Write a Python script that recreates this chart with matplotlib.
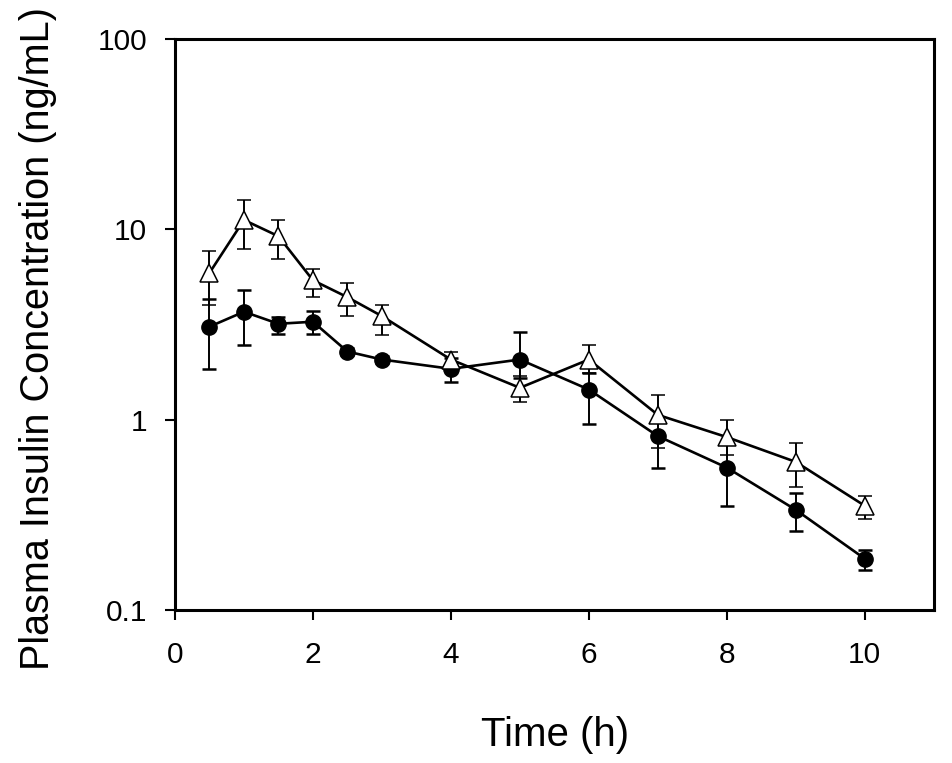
import matplotlib
matplotlib.use("Agg")
import matplotlib.pyplot as plt
from matplotlib.ticker import FixedLocator, NullLocator

plt.rcParams['font.family'] = ['Liberation Sans', 'DejaVu Sans']

# time points (h)
time = [0.5, 1, 1.5, 2, 2.5, 3, 4, 5, 6, 7, 8, 9, 10]

# open triangles: mean, lower and upper error
tri_mean = [5.9, 11.2, 9.2, 5.4, 4.4, 3.5, 2.07, 1.47, 2.07, 1.06, 0.81, 0.60, 0.353]
tri_low = [4.0, 7.9, 7.0, 4.4, 3.5, 2.8, 1.85, 1.24, 1.75, 0.71, 0.65, 0.445, 0.30]
tri_high = [7.7, 14.3, 11.2, 6.2, 5.2, 4.0, 2.27, 1.70, 2.47, 1.34, 1.0, 0.75, 0.395]

# filled circles: mean, lower and upper error
cir_mean = [3.08, 3.69, 3.19, 3.27, 2.28, 2.07, 1.85, 2.07, 1.44, 0.82, 0.56, 0.336, 0.186]
cir_low = [1.85, 2.47, 2.83, 2.83, 2.18, 1.98, 1.58, 1.66, 0.95, 0.56, 0.35, 0.26, 0.163]
cir_high = [4.3, 4.8, 3.47, 3.73, 2.38, 2.16, 2.1, 2.9, 1.75, 1.0, 0.75, 0.41, 0.207]

fig = plt.figure(figsize=(9.52, 7.63), dpi=100)
ax = fig.add_axes([0.1838, 0.2005, 0.797, 0.7484])

tri_err = [[m - l for m, l in zip(tri_mean, tri_low)],
           [h - m for m, h in zip(tri_mean, tri_high)]]
cir_err = [[m - l for m, l in zip(cir_mean, cir_low)],
           [h - m for m, h in zip(cir_mean, cir_high)]]

ax.errorbar(time, cir_mean, yerr=cir_err, fmt='-o', color='black', mfc='black',
            mec='black', ms=11, lw=1.9, elinewidth=1.4, capsize=5, capthick=1.8, zorder=2)
ax.errorbar(time, tri_mean, yerr=tri_err, fmt='-^', color='black', mfc='white',
            mec='black', ms=13, mew=1.1, lw=1.9, elinewidth=1.4, capsize=5, capthick=1.8, zorder=3)

ax.set_yscale('log')
ax.set_ylim(0.1, 100)
ax.set_xlim(0, 11)
ax.yaxis.set_major_locator(FixedLocator([0.1, 1, 10, 100]))
ax.yaxis.set_minor_locator(NullLocator())
ax.set_yticklabels(['0.1', '1', '10', '100'])
ax.set_xticks([0, 2, 4, 6, 8, 10])

ax.tick_params(axis='both', direction='out', length=7, width=1.5, labelsize=21.5, color='black')
ax.tick_params(axis='y', pad=13)
ax.tick_params(axis='x', pad=15)
for side in ['left', 'bottom', 'top', 'right']:
    ax.spines[side].set_linewidth(2.2)
    ax.spines[side].set_color('black')

fig.text(555 / 952, 1 - 735 / 763, 'Time (h)', ha='center', va='center', fontsize=29)
fig.text(38 / 952, 1 - 670 / 763, 'Plasma Insulin Concentration (ng/mL)',
         rotation=90, ha='center', va='bottom', fontsize=28.5)

fig.savefig('out.png', dpi=100)
